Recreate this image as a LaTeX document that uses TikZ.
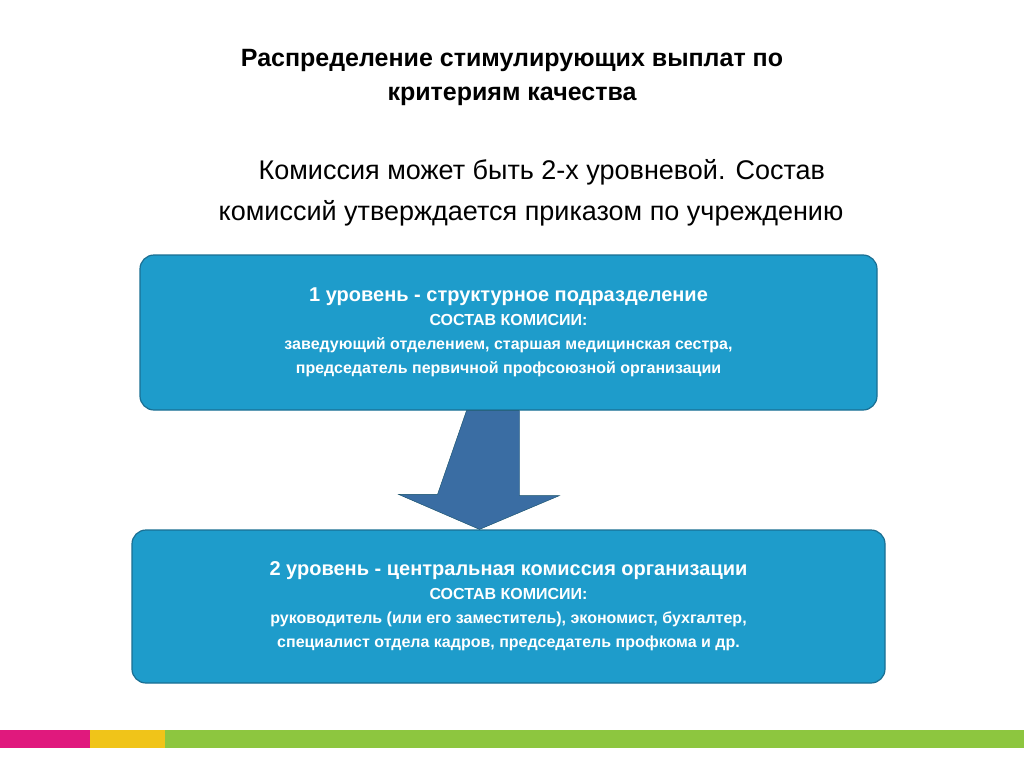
\documentclass[tikz,border=0pt]{standalone}
\usepackage{fontspec}
\setmainfont{Liberation Sans}
\usetikzlibrary{positioning}
\definecolor{boxfill}{HTML}{1E9CCB}
\definecolor{boxline}{HTML}{1A6F93}
\definecolor{arrowfill}{HTML}{3A6DA3}
\definecolor{barpink}{HTML}{E0197D}
\definecolor{baryellow}{HTML}{F0C419}
\definecolor{bargreen}{HTML}{8DC63F}
\tikzset{
  levelbox/.style={draw=boxline, line width=1.2pt, fill=boxfill, rounded corners=14pt,
    text=white, align=center, font=\bfseries\fontsize{16}{24}\selectfont, inner sep=0pt},
}
\begin{document}
\begin{tikzpicture}[x=1pt,y=-1pt]
    \useasboundingbox (0,0) rectangle (1024,768);
    \fill[white] (0,0) rectangle (1024,768);

    \node[font=\bfseries\fontsize{25}{34}\selectfont, align=center] (Title) at (512,77) {%
      Распределение стимулирующих выплат по\\критериям качества};
    \node[font=\fontsize{27}{41}\selectfont, align=center] (Intro) at (531,193) {%
      \hspace*{0.8em}Комиссия может быть 2-х уровневой. Состав\\комиссий утверждается приказом по учреждению};

    \node[levelbox, minimum width=737pt, minimum height=155pt] (LevelOne) at (508.5,332.5) {%
      {\fontsize{20}{24}\selectfont 1 уровень - структурное подразделение}\\
      СОСТАВ КОМИСИИ:\\
      заведующий отделением, старшая медицинская сестра,\\
      председатель первичной профсоюзной организации};
    \node[levelbox, minimum width=753pt, minimum height=153pt] (LevelTwo) at (508.5,606.5) {%
      {\fontsize{20}{24}\selectfont 2 уровень - центральная комиссия организации}\\
      СОСТАВ КОМИСИИ:\\
      руководитель (или его заместитель), экономист, бухгалтер,\\
      специалист отдела кадров, председатель профкома и др.};

    % arrow between the levels
    \fill[arrowfill, draw=boxline!70!black] ([xshift=-42pt]LevelOne.south) -- ([xshift=11pt]LevelOne.south)
      -- ++(0,85) -- ++(40,0) -- ([xshift=-29pt]LevelTwo.north) -- ++(-81,-35) -- ++(39,0) -- cycle;

    \fill[barpink] (0,730) rectangle (90,748);
    \fill[baryellow] (90,730) rectangle (165,748);
    \fill[bargreen] (165,730) rectangle (1024,748);
\end{tikzpicture}
\end{document}
